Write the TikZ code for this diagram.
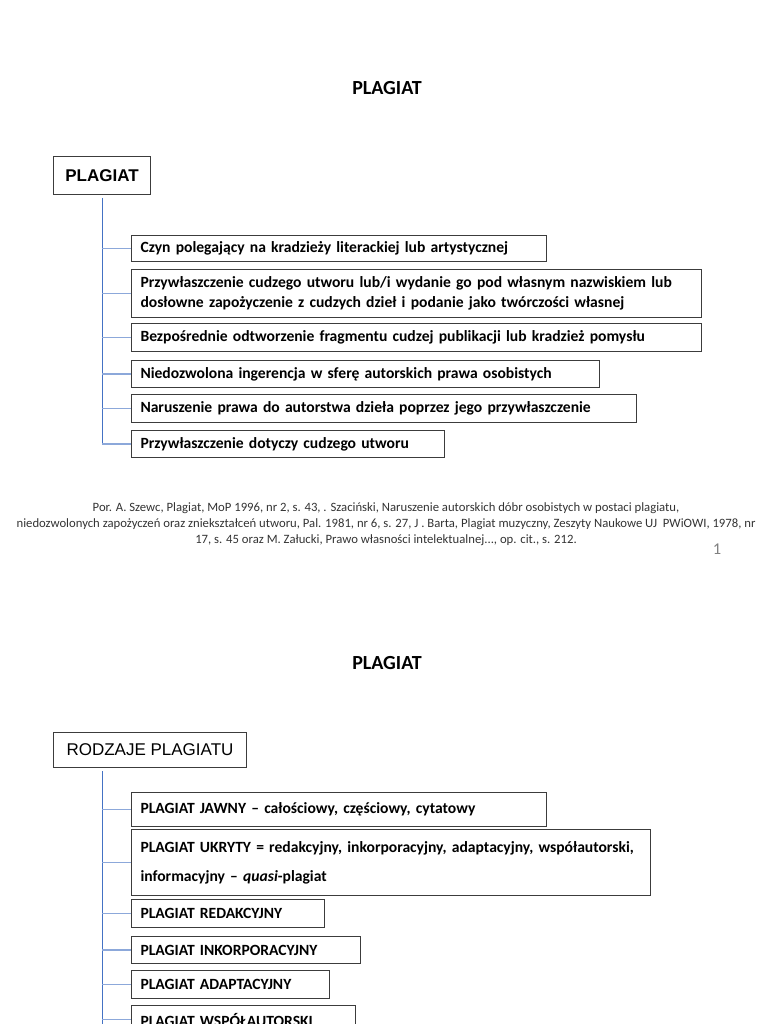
\documentclass[tikz,border=0pt]{standalone}
\usepackage{fontspec}
\setmainfont{Carlito}
\newfontfamily\arialfont{Liberation Sans}
\usetikzlibrary{calc}

\definecolor{linkblue}{RGB}{68,114,196}
\definecolor{branchblue}{RGB}{140,168,218}
\definecolor{framegray}{RGB}{60,60,60}

\tikzset{
  titletext/.style={font=\bfseries\fontsize{20}{24}\selectfont},
  rootbox/.style={draw=framegray, line width=1pt, anchor=north west,
    inner sep=0pt, font=\arialfont\fontsize{17}{20}\selectfont},
  itembox/.style 2 args={draw=framegray, line width=1pt, anchor=north west,
    inner xsep=9pt, inner ysep=0pt, align=left, text width={#1pt-18pt},
    minimum height=#2pt, font=\bfseries\fontsize{15.6}{20}\selectfont},
  trunk/.style={draw=linkblue, line width=0.8pt},
  branch/.style={draw=branchblue, line width=1.2pt},
}

\begin{document}
\begin{tikzpicture}[x=1pt, y=-1pt]
  \useasboundingbox (0,0) rectangle (768,1024);
  \clip (0,0) rectangle (768,1024);

  % first slide
  \node[titletext] (title1) at (387,88) {PLAGIAT};
  \node[rootbox, minimum width=97pt, minimum height=38pt] (root1) at (53,156)
    {\bfseries PLAGIAT};
  \node[itembox={415}{26}] (a1) at (131,235)
    {Czyn polegający na kradzieży literackiej lub artystycznej};
  \node[itembox={570}{48}] (a2) at (131,269)
    {Przywłaszczenie cudzego utworu lub/i wydanie go pod własnym nazwiskiem lub\\
     dosłowne zapożyczenie z cudzych dzieł i podanie jako twórczości własnej};
  \node[itembox={570}{28}] (a3) at (131,323)
    {Bezpośrednie odtworzenie fragmentu cudzej publikacji lub kradzież pomysłu};
  \node[itembox={468}{27}] (a4) at (131,360)
    {Niedozwolona ingerencja w sferę autorskich prawa osobistych};
  \node[itembox={505}{28}] (a5) at (131,394)
    {Naruszenie prawa do autorstwa dzieła poprzez jego przywłaszczenie};
  \node[itembox={313}{27}] (a6) at (131,430)
    {Przywłaszczenie dotyczy cudzego utworu};

  \coordinate (top1) at (102,198);
  \draw[trunk] (top1) -- (top1 |- a6.west);
  \foreach \n in {a1,a2,a3,a4,a5,a6}
    \draw[branch] (\n.west) -- (\n.west -| top1);

  \node[align=center, text=black!80, font=\fontsize{12.7}{16}\selectfont]
    (source) at (386,524)
    {Por. A. Szewc, Plagiat, MoP 1996, nr 2, s. 43, . Szaciński, Naruszenie autorskich dóbr osobistych w postaci plagiatu,\\
     niedozwolonych zapożyczeń oraz zniekształceń utworu, Pal. 1981, nr 6, s. 27, J . Barta, Plagiat muzyczny, Zeszyty Naukowe UJ\ \ PWiOWI, 1978, nr\\
     17, s. 45 oraz M. Załucki, Prawo własności intelektualnej..., op. cit., s. 212.};
  \node[text=black!50, font=\fontsize{16.5}{18}\selectfont] (pagenum) at (717,549) {1};

  % second slide
  \node[titletext] (title2) at (387,663) {PLAGIAT};
  \node[rootbox, minimum width=193pt, minimum height=35pt] (root2) at (53,732)
    {RODZAJE PLAGIATU};
  \node[itembox={415}{34}] (b1) at (131,792)
    {PLAGIAT JAWNY – całościowy, częściowy, cytatowy};
  \node[itembox={519}{66}] (b2) at (131,829)
    {PLAGIAT UKRYTY = redakcyjny, inkorporacyjny, adaptacyjny, współautorski,\\[9pt]
     informacyjny – \textit{quasi}-plagiat};
  \node[itembox={193}{28}] (b3) at (131,899) {PLAGIAT REDAKCYJNY};
  \node[itembox={229}{27}] (b4) at (131,936) {PLAGIAT INKORPORACYJNY};
  \node[itembox={198}{28}] (b5) at (131,970) {PLAGIAT ADAPTACYJNY};
  \node[itembox={224}{28}] (b6) at (131,1005) {PLAGIAT WSPÓŁAUTORSKI};

  \coordinate (top2) at (102,771);
  \coordinate (foot2) at (102,1030);
  \draw[trunk] (top2) -- (foot2);
  \foreach \n in {b1,b2,b3,b4,b5,b6}
    \draw[branch] (\n.west) -- (\n.west -| top2);
\end{tikzpicture}
\end{document}
